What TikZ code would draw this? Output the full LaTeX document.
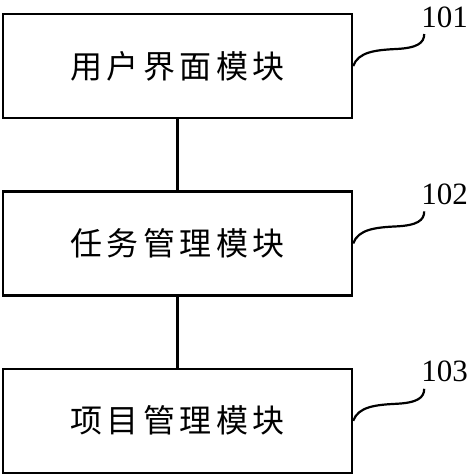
\documentclass[tikz,border=0pt]{standalone}
\usepackage{fontspec}
\setmainfont{Liberation Serif}
\newfontfamily\cjk[LetterSpace=14]{Noto Sans CJK SC}
\usetikzlibrary{positioning}
\tikzset{
  module/.style={draw, line width=2.4pt, minimum width=349pt, minimum height=104pt,
                 inner sep=0pt, font=\cjk\fontsize{32}{34}\selectfont},
  link/.style={line width=2.4pt},
  leader/.style={line width=2.2pt},
  tag/.style={font=\fontsize{31}{32}\selectfont, inner sep=0pt, anchor=base west},
}
\begin{document}
\begin{tikzpicture}[x=1pt, y=-1pt, node distance=71pt]
  \useasboundingbox (0,0) rectangle (474,474);
  % modules, top to bottom
  \node[module] (ui) at (177.5,66) {用户界面模块};
  \node[module, below=of ui] (task) {任务管理模块};
  \node[module, below=of task] (proj) {项目管理模块};
  \draw[link] (ui) -- (task);
  \draw[link] (task) -- (proj);

  % reference numerals with wavy leaders
  \foreach \m/\n in {ui/101, task/102, proj/103} {
    \coordinate (e\n) at ([xshift=71pt, yshift=32pt]\m.east);
    \node[tag] (t\n) at ([xshift=-3pt, yshift=7pt]e\n) {\n};
    \begin{scope}[shift={(\m.east)}]
      \draw[leader] (\m.east) .. controls (5,-14) and (22,-16) .. (43,-17)
                    .. controls (64,-18) and (71,-23) .. (e\n);
    \end{scope}
  }
\end{tikzpicture}
\end{document}
